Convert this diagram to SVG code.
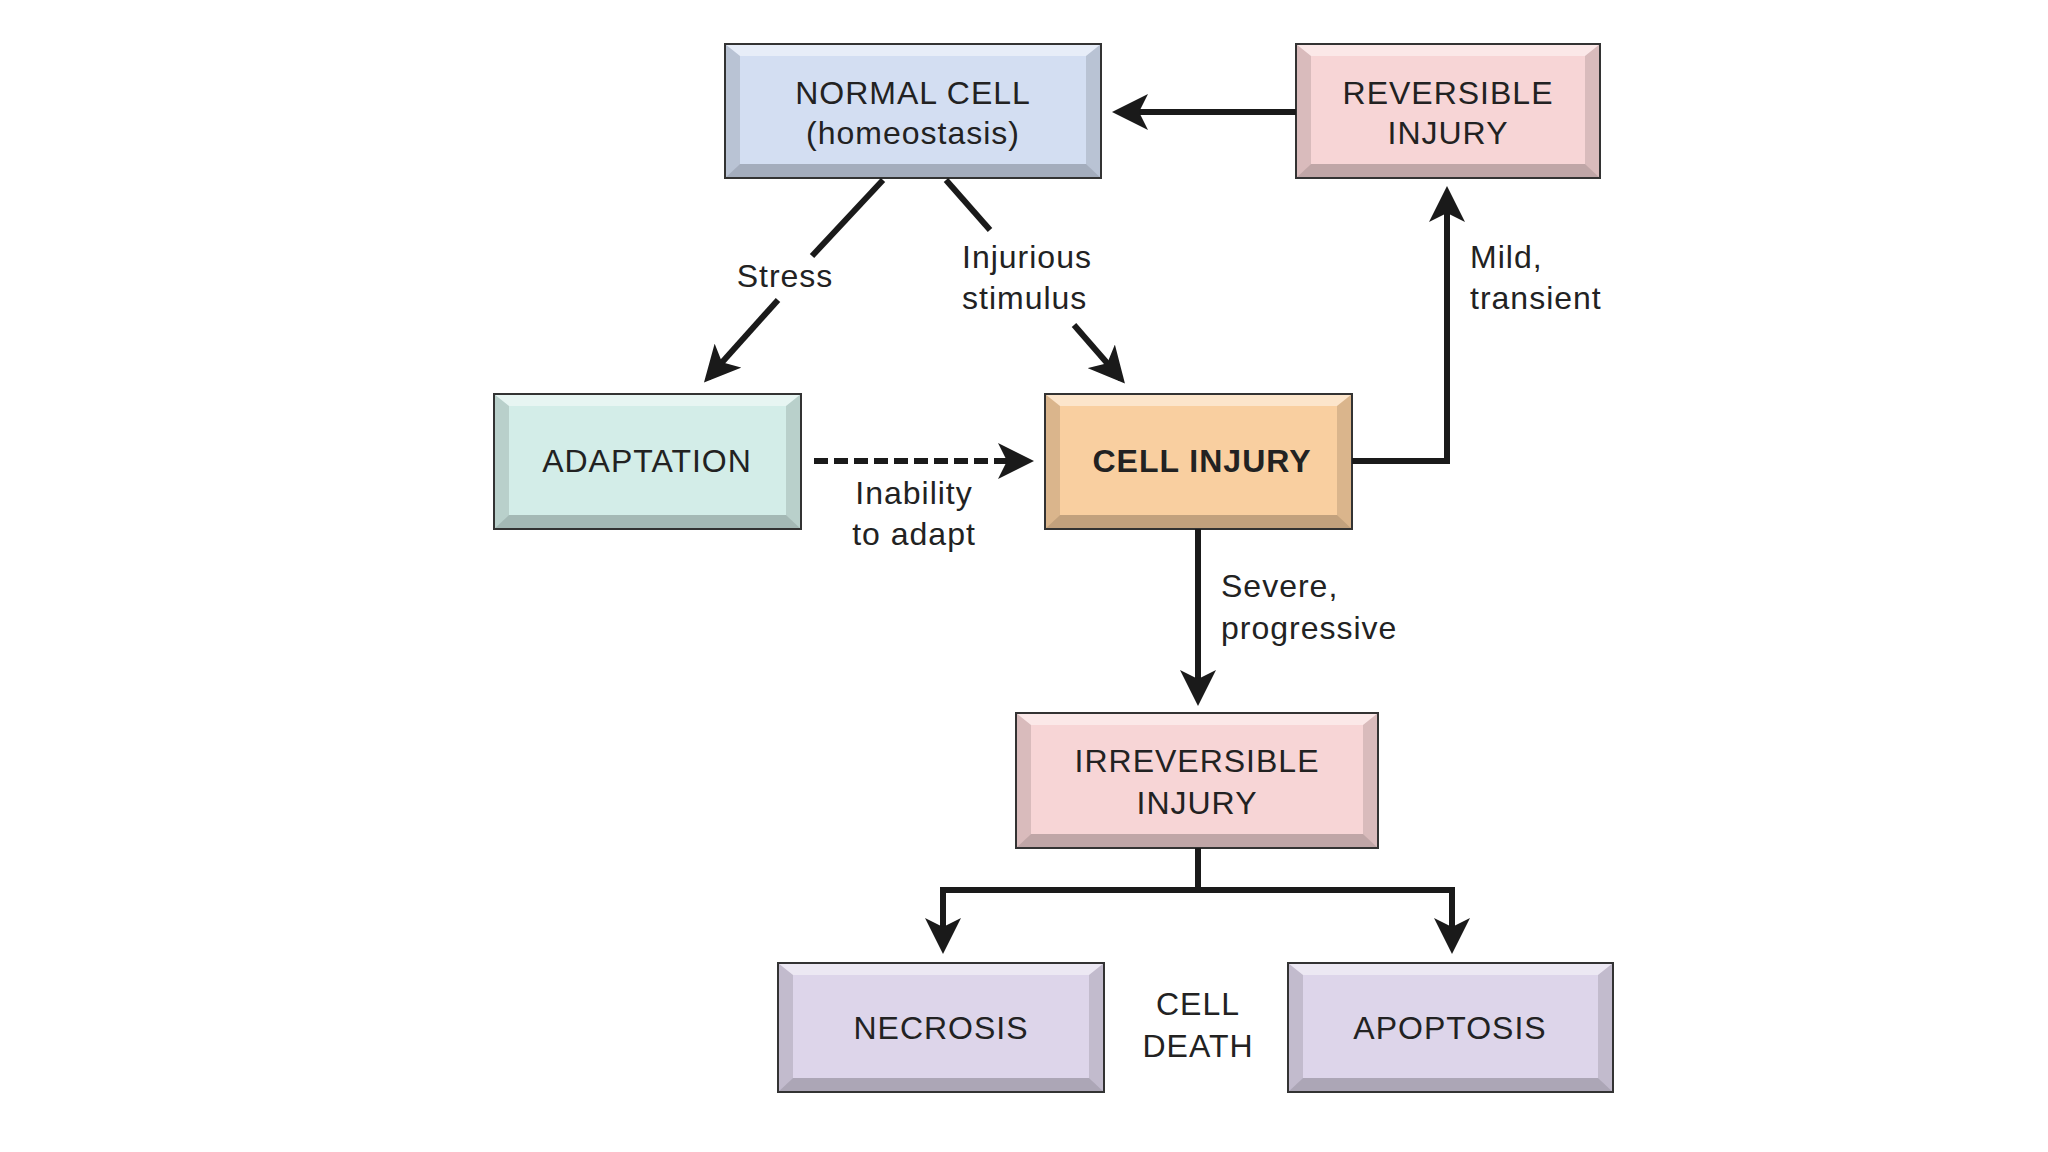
<svg xmlns="http://www.w3.org/2000/svg" width="2048" height="1152" viewBox="0 0 2048 1152">
<defs>
<marker id="ah" markerWidth="6" markerHeight="6" refX="5" refY="3" orient="auto" markerUnits="strokeWidth"><path d="M0,0 L6,3 L0,6 L1.5,3 Z" fill="#1a1a1a"/></marker>
<style>
text{font-family:"Liberation Sans",Arial,sans-serif;font-size:32px;fill:#222;dominant-baseline:central;letter-spacing:1px}
.c{text-anchor:middle}
.b{font-weight:bold}
.frame{fill:none;stroke:#333;stroke-width:2}
.ln{stroke:#1a1a1a;stroke-width:6;fill:none}
.lt{opacity:0.45;fill:#fff}
.dk{opacity:0.12;fill:#000}
.dk2{opacity:0.22;fill:#000}
</style>
</defs>
<rect width="2048" height="1152" fill="#fff"/>
<g id="normal">
<rect x="725" y="44" width="376" height="134" fill="#d3def2"/>
<polygon points="725,44 1101,44 1086,56 740,56" class="lt"/>
<polygon points="725,44 740,56 740,164 725,178" class="dk"/>
<polygon points="1101,44 1086,56 1086,164 1101,178" class="dk"/>
<polygon points="725,178 740,164 1086,164 1101,178" class="dk2"/>
<rect x="725" y="44" width="376" height="134" class="frame"/>
<text x="913" y="93" class="c">NORMAL CELL</text><text x="913" y="133" class="c">(homeostasis)</text>
</g>
<g id="reversible">
<rect x="1296" y="44" width="304" height="134" fill="#f7d5d6"/>
<polygon points="1296,44 1600,44 1585,56 1311,56" class="lt"/>
<polygon points="1296,44 1311,56 1311,164 1296,178" class="dk"/>
<polygon points="1600,44 1585,56 1585,164 1600,178" class="dk"/>
<polygon points="1296,178 1311,164 1585,164 1600,178" class="dk2"/>
<rect x="1296" y="44" width="304" height="134" class="frame"/>
<text x="1448" y="93" class="c">REVERSIBLE</text><text x="1448" y="133" class="c">INJURY</text>
</g>
<g id="adaptation">
<rect x="494" y="394" width="307" height="135" fill="#d3ede8"/>
<polygon points="494,394 801,394 786,406 509,406" class="lt"/>
<polygon points="494,394 509,406 509,515 494,529" class="dk"/>
<polygon points="801,394 786,406 786,515 801,529" class="dk"/>
<polygon points="494,529 509,515 786,515 801,529" class="dk2"/>
<rect x="494" y="394" width="307" height="135" class="frame"/>
<text x="647" y="461" class="c">ADAPTATION</text>
</g>
<g id="cellinjury">
<rect x="1045" y="394" width="307" height="135" fill="#f9cfa0"/>
<polygon points="1045,394 1352,394 1337,406 1060,406" class="lt"/>
<polygon points="1045,394 1060,406 1060,515 1045,529" class="dk"/>
<polygon points="1352,394 1337,406 1337,515 1352,529" class="dk"/>
<polygon points="1045,529 1060,515 1337,515 1352,529" class="dk2"/>
<rect x="1045" y="394" width="307" height="135" class="frame"/>
<text x="1202" y="461" class="c b">CELL INJURY</text>
</g>
<g id="irreversible">
<rect x="1016" y="713" width="362" height="135" fill="#f7d5d6"/>
<polygon points="1016,713 1378,713 1363,725 1031,725" class="lt"/>
<polygon points="1016,713 1031,725 1031,834 1016,848" class="dk"/>
<polygon points="1378,713 1363,725 1363,834 1378,848" class="dk"/>
<polygon points="1016,848 1031,834 1363,834 1378,848" class="dk2"/>
<rect x="1016" y="713" width="362" height="135" class="frame"/>
<text x="1197" y="761" class="c">IRREVERSIBLE</text><text x="1197" y="803" class="c">INJURY</text>
</g>
<g id="necrosis">
<rect x="778" y="963" width="326" height="129" fill="#ddd5ea"/>
<polygon points="778,963 1104,963 1089,975 793,975" class="lt"/>
<polygon points="778,963 793,975 793,1078 778,1092" class="dk"/>
<polygon points="1104,963 1089,975 1089,1078 1104,1092" class="dk"/>
<polygon points="778,1092 793,1078 1089,1078 1104,1092" class="dk2"/>
<rect x="778" y="963" width="326" height="129" class="frame"/>
<text x="941" y="1028" class="c">NECROSIS</text>
</g>
<g id="apoptosis">
<rect x="1288" y="963" width="325" height="129" fill="#ddd5ea"/>
<polygon points="1288,963 1613,963 1598,975 1303,975" class="lt"/>
<polygon points="1288,963 1303,975 1303,1078 1288,1092" class="dk"/>
<polygon points="1613,963 1598,975 1598,1078 1613,1092" class="dk"/>
<polygon points="1288,1092 1303,1078 1598,1078 1613,1092" class="dk2"/>
<rect x="1288" y="963" width="325" height="129" class="frame"/>
<text x="1450" y="1028" class="c">APOPTOSIS</text>
</g>
<g id="connectors">
<line x1="1296" y1="112" x2="1118" y2="112" class="ln" marker-end="url(#ah)"/>
<line x1="883" y1="180" x2="812" y2="256" class="ln"/>
<line x1="778" y1="300" x2="708" y2="378" class="ln" marker-end="url(#ah)"/>
<line x1="946" y1="180" x2="990" y2="230" class="ln"/>
<line x1="1074" y1="325" x2="1121" y2="379" class="ln" marker-end="url(#ah)"/>
<line x1="814" y1="461" x2="1028" y2="461" class="ln" stroke-dasharray="14,6" marker-end="url(#ah)"/>
<polyline points="1352,461 1447,461 1447,192" class="ln" marker-end="url(#ah)"/>
<line x1="1198" y1="529" x2="1198" y2="700" class="ln" marker-end="url(#ah)"/>
<polyline points="1198,848 1198,890 943,890 943,948" class="ln" marker-end="url(#ah)"/>
<polyline points="1198,890 1452,890 1452,948" class="ln" marker-end="url(#ah)"/>
</g>
<text x="785" y="276" class="c">Stress</text>
<text x="962" y="257">Injurious</text><text x="962" y="298">stimulus</text>
<text x="914" y="493" class="c">Inability</text><text x="914" y="534" class="c">to adapt</text>
<text x="1470" y="257">Mild,</text><text x="1470" y="298">transient</text>
<text x="1221" y="586">Severe,</text><text x="1221" y="628">progressive</text>
<text x="1198" y="1004" class="c">CELL</text><text x="1198" y="1046" class="c">DEATH</text>
</svg>
